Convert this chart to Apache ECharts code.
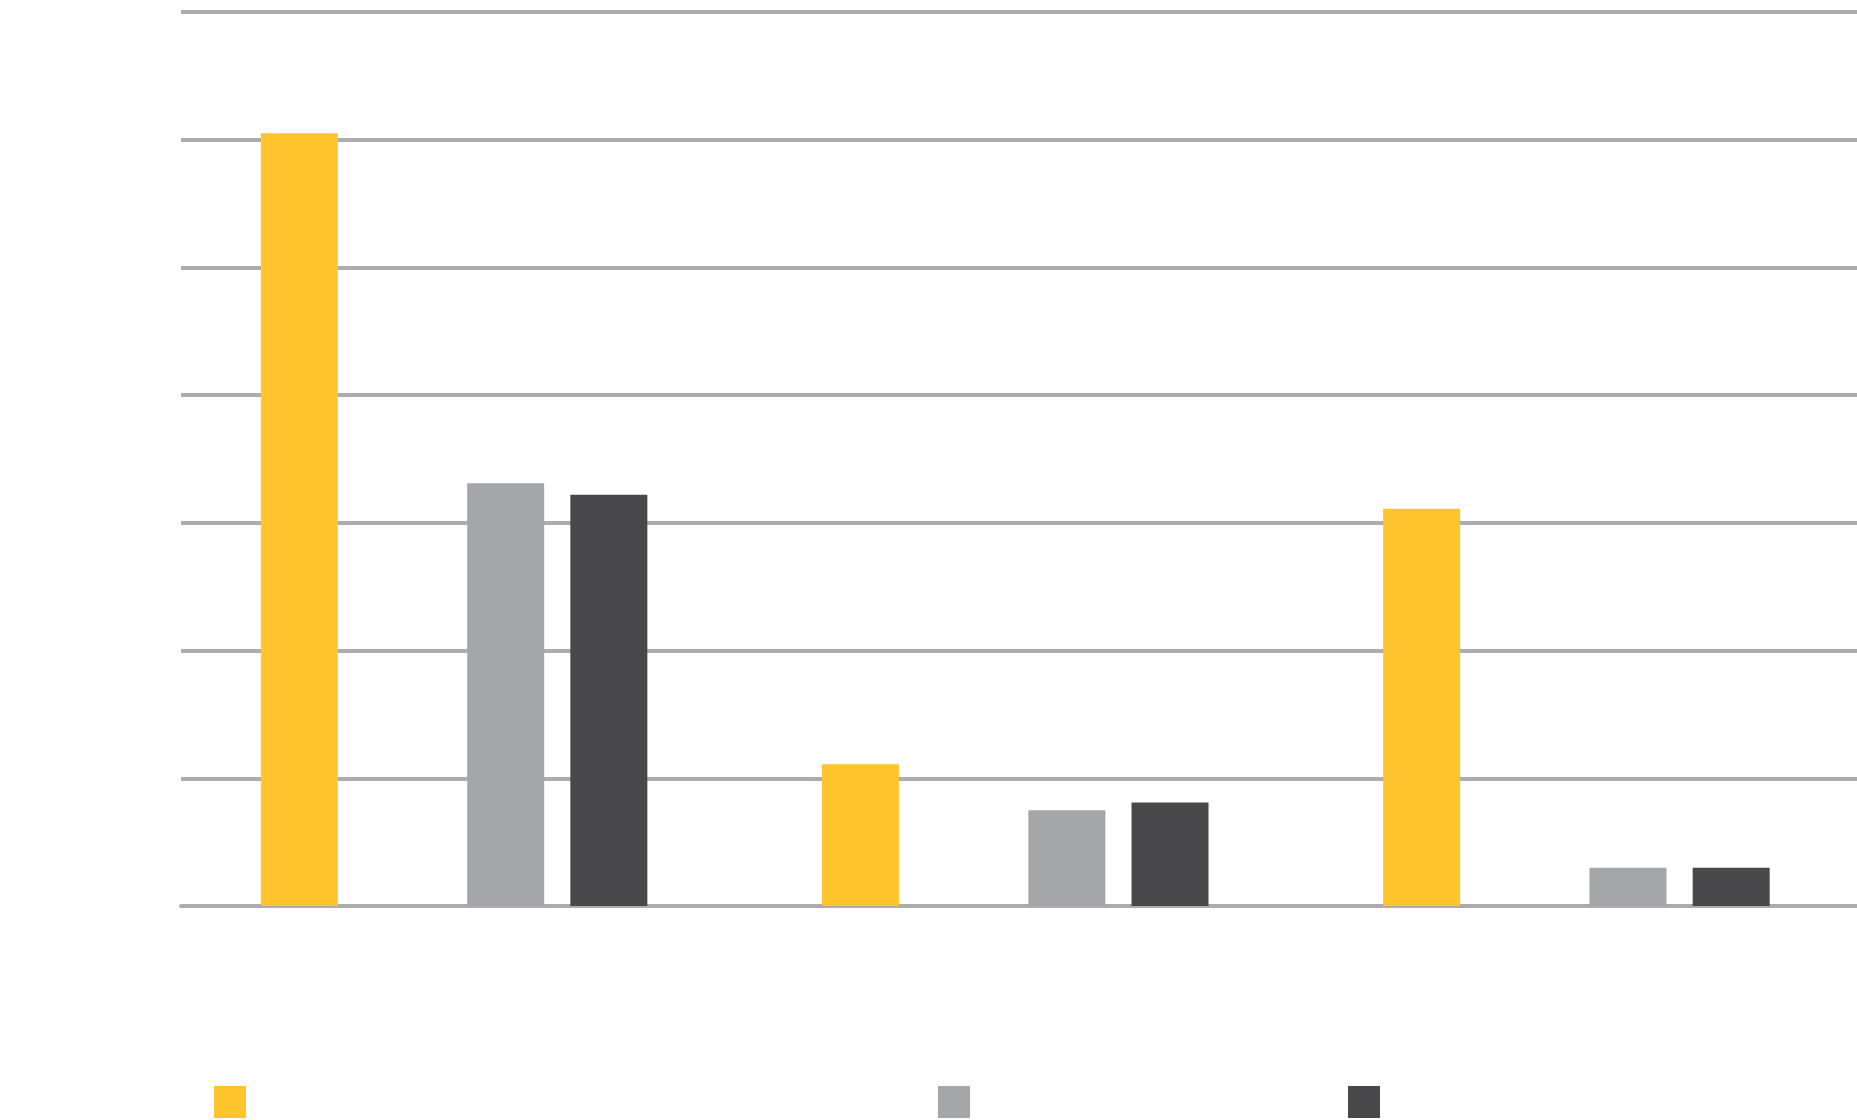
<!DOCTYPE html>
<html>
<head>
<meta charset="utf-8">
<script src="https://cdn.jsdelivr.net/npm/echarts@6/dist/echarts.min.js"></script>
<style>
html,body{margin:0;padding:0;background:#fff;}
#chart{width:1857px;height:1120px;}
</style>
</head>
<body>
<div id="chart"></div>
<script>
// Data (no text labels are visible in the reference)
const categories = ['1', '2', '3'];
const seriesNames = ['Series A', 'Series B', 'Series C'];
const seriesA = [60.5, 11.1, 31.1];
const seriesB = [33.1, 7.5, 3.0];
const seriesC = [32.2, 8.1, 3.0];
const emptySlot = ['-', '-', '-'];
const yTicks = [0, 10, 20, 30, 40, 50, 60, 70];

const colors = ['#FDC42E', '#A5A6A9', '#48484A'];
const gridColor = '#ACACAE';

const chart = echarts.init(document.getElementById('chart'), null, {renderer: 'canvas'});

const legendLefts = [214, 938, 1348];
const legends = seriesNames.map((n, i) => ({
  data: [n],
  left: legendLefts[i],
  top: 1086,
  padding: 0,
  itemWidth: 32,
  itemHeight: 32,
  icon: 'rect',
  selectedMode: false,
  formatter: () => '',
  textStyle: {fontSize: 1}
}));

const yMin = yTicks[0], yMax = yTicks[yTicks.length - 1], yInt = yTicks[1] - yTicks[0];

const barBase = {type: 'bar', xAxisIndex: 1, yAxisIndex: 1, barWidth: 77, barGap: '34%', animation: false};

chart.setOption({
  animation: false,
  backgroundColor: '#ffffff',
  grid: [
    {left: 181, right: 0, top: 12, bottom: 214, containLabel: false},
    {left: 173.5, right: -4, top: 12, bottom: 214, containLabel: false}
  ],
  legend: legends,
  xAxis: [
    {
      type: 'category', gridIndex: 0, data: categories,
      axisLine: {show: true, lineStyle: {color: gridColor, width: 4}},
      axisTick: {show: false}, axisLabel: {show: false}, splitLine: {show: false}
    },
    {
      type: 'category', gridIndex: 1, data: categories,
      axisLine: {show: false}, axisTick: {show: false}, axisLabel: {show: false}, splitLine: {show: false}
    }
  ],
  yAxis: [
    {
      type: 'value', gridIndex: 0, min: yMin, max: yMax, interval: yInt,
      axisLine: {show: false}, axisTick: {show: false}, axisLabel: {show: false},
      splitLine: {show: true, lineStyle: {color: gridColor, width: 4}}
    },
    {
      type: 'value', gridIndex: 1, min: yMin, max: yMax, interval: yInt,
      axisLine: {show: false}, axisTick: {show: false}, axisLabel: {show: false}, splitLine: {show: false}
    }
  ],
  series: [
    Object.assign({}, barBase, {name: seriesNames[0], data: seriesA, itemStyle: {color: colors[0]}}),
    Object.assign({}, barBase, {name: 'gap', data: emptySlot, itemStyle: {color: 'transparent'}}),
    Object.assign({}, barBase, {name: seriesNames[1], data: seriesB, itemStyle: {color: colors[1]}}),
    Object.assign({}, barBase, {name: seriesNames[2], data: seriesC, itemStyle: {color: colors[2]}})
  ]
});
</script>
</body>
</html>
